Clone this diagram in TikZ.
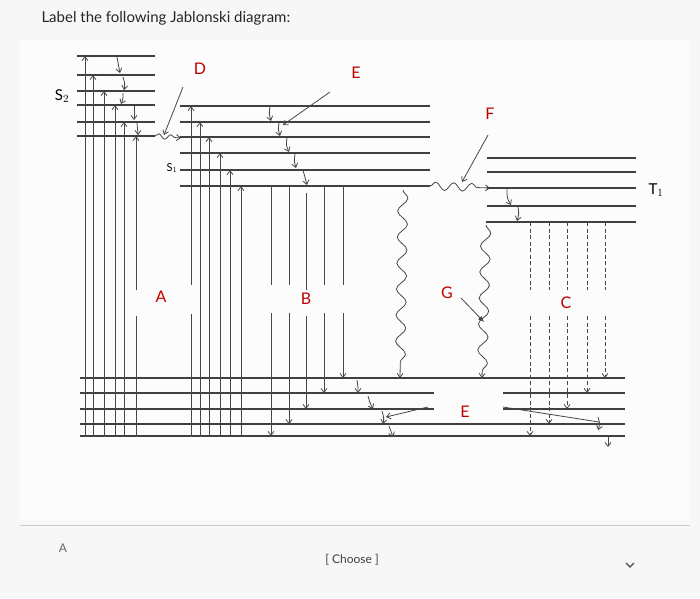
\documentclass[tikz,border=0pt]{standalone}
\usepackage{fontspec}
\setmainfont{Lato}
\usetikzlibrary{decorations.pathmorphing,arrows.meta}
\begin{document}
\begin{tikzpicture}[x=1pt,y=-1pt,
  lv/.style={draw=black!75,line width=1.1pt},
  vl/.style={draw=black!72,line width=0.8pt},
  up/.style={vl,-{Straight Barb[length=4pt,width=6pt]}},
  dn/.style={vl,-{Straight Barb[length=4pt,width=6pt]}},
  dsh/.style={vl,dashed,dash pattern=on 4pt off 2.5pt,-{Straight Barb[length=4pt,width=6pt]}},
  wav/.style={vl,decorate,decoration=snake,decoration={amplitude=5pt,segment length=26pt,post length=5pt}},
  lab/.style={text=red!75!black,font=\fontsize{16}{16}\selectfont},
  blk/.style={font=\fontsize{15}{15}\selectfont}]
\useasboundingbox[fill=black!3] (0,0) rectangle (700,598);
\fill[black!1] (20,40) rectangle (690,520);
\node[anchor=west,font=\fontsize{15}{15}\selectfont,text=black!85] (title) at (38,18) {Label the following Jablonski diagram:};
% ground levels
\foreach \y in {378,424,436} \draw[lv] (80,\y) -- (625,\y);
\foreach \y in {393,409} {\draw[lv] (80,\y) -- (434,\y); \draw[lv] (503,\y) -- (625,\y);}
% S2 levels
\foreach \y in {56,75,91,105,122} \draw[lv] (77,\y) -- (155,\y);
\draw[lv,line width=1.5pt] (77,136) -- (155,136);
\node[blk] (s2) at (62,96) {S$_2$};
% S2 absorption
\foreach \x/\y in {85/56,93/75,104/91,115/105,124/122} \draw[up] (\x,436) -- (\x,\y);
\draw[up] (136,290) -- (136,136);
\draw[vl] (136,436) -- (136,316);
% S2 relaxation
\draw[dn] (117,57) .. controls (118,65) .. (120,73);
\draw[dn] (123,77) .. controls (125,84) .. (124,90);
\draw[dn] (123,93) .. controls (123,99) .. (121,104);
\draw[dn] (134,106) -- (134,120);
\draw[dn] (137,123) .. controls (138,129) .. (138,135);
% S1 levels
\foreach \y in {106,122,137,153,170} \draw[lv] (180,\y) -- (430,\y);
\draw[lv,line width=1.5pt] (180,186) -- (430,186);
\node[font=\fontsize{11}{11}\selectfont] (s1) at (172,168) {S$_1$};
% S1 absorption
\foreach \x/\y in {200/122,209/137,220/153,230/170,241/186} \draw[up] (\x,436) -- (\x,\y);
\draw[up] (191,285) -- (191,106);
\draw[vl] (191,436) -- (191,314);
% S1 relaxation
\draw[dn] (270,106) .. controls (269,114) .. (271,121);
\draw[dn] (279,123) .. controls (278,129) .. (280,136);
\draw[dn] (287,138) .. controls (286,145) .. (289,152);
\draw[dn] (295,154) .. controls (294,161) .. (296,168);
\draw[dn] (303,170) .. controls (305,177) .. (307,185);
% IC S2->S1
\draw[vl,decorate,decoration=snake,decoration={amplitude=2.5pt,segment length=12pt,post length=5pt},-{Straight Barb[length=4pt,width=6pt]}] (155,136) -- (181,138);
% fluorescence
\foreach \x/\y in {271/436,289/424,324/393,343/378} {\draw[vl] (\x,186) -- (\x,285); \draw[dn] (\x,313) -- (\x,\y);}
\draw[vl] (306,193) -- (306,290); \draw[dn] (306,316) -- (306,409);
% IC S1 wavy
\draw[wav,-{Straight Barb[length=4pt,width=6pt]}] (403,190) -- (400,378);
% ISC wavy
\draw[vl,decorate,decoration=snake,decoration={amplitude=4pt,segment length=18pt,post length=12pt},-{Straight Barb[length=4pt,width=6pt]}] (430,186) -- (490,188);
% T1 levels
\foreach \y in {158,172,188,206} \draw[lv] (487,\y) -- (636,\y);
\draw[lv,line width=1.5pt] (486,222) -- (636,222);
\node[blk] (t1) at (656,190) {T$_1$};
\draw[dn] (507,189) .. controls (507,198) .. (511,205);
\draw[dn] (518,207) .. controls (519,214) .. (517,221);
% T1 wavy down
\draw[wav,-{Straight Barb[length=4pt,width=6pt]}] (486,225) -- (482,378);
% phosphorescence
\foreach \x/\y in {530/436,549/424,567/409,587/393,605/378} {\draw[vl,dashed,dash pattern=on 4pt off 2.5pt] (\x,222) -- (\x,290); \draw[dsh] (\x,316) -- (\x,\y);}
\draw[vl] (503,407) -- (599,422);
\draw[dn] (598,417) .. controls (600,424) .. (598,430);
\draw[dn] (608,437) -- (608,447);
% ground relaxation
\draw[dn] (357,380) .. controls (358,387) .. (358,393);
\draw[dn] (368,396) .. controls (370,403) .. (373,409);
\draw[dn] (382,411) .. controls (384,418) .. (383,424);
\draw[dn] (389,426) .. controls (391,431) .. (393,437);
% pointers
\draw[vl,-{Straight Barb[length=4pt,width=6pt]}] (183,87) -- (164,135);
\draw[vl,-{Straight Barb[length=4pt,width=6pt]}] (330,92) -- (283,125);
\draw[vl,-{Straight Barb[length=4pt,width=6pt]}] (488,135) -- (462,182);
\draw[vl,-{Latex[length=6pt,width=5pt]}] (461,298) -- (484,322);
\draw[vl,-{Straight Barb[length=4pt,width=6pt]}] (428,407) -- (386,417);
% labels
\node[lab] (lD) at (200,69) {D};
\node[lab] (lE1) at (356,73) {E};
\node[lab] (lF) at (490,114) {F};
\node[lab] (lA) at (161,297) {A};
\node[lab] (lB) at (306,299) {B};
\node[lab] (lG) at (447,293) {G};
\node[lab] (lC) at (566,303) {C};
\node[lab] (lE2) at (465,412) {E};
% bottom UI
\draw[black!20] (20,525) -- (690,525);
\node[text=black!60,font=\fontsize{12}{12}\selectfont] (ua) at (63,548) {A};
\node[text=black!75,font=\fontsize{12}{12}\selectfont] (ch) at (352,560) {[ Choose ]};
\draw[black!70,line width=1.2pt] (626,563) -- (630,567) -- (634,563);
\end{tikzpicture}
\end{document}
